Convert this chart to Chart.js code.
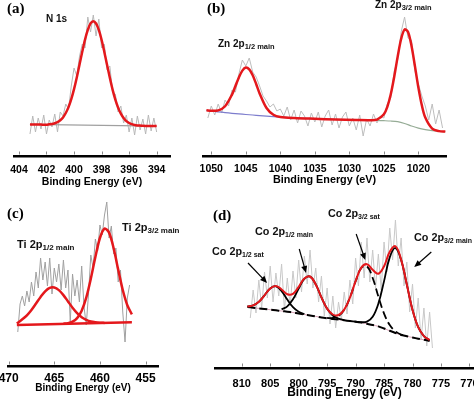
<!DOCTYPE html>
<html>
<head>
<meta charset="utf-8">
<script src="https://cdn.jsdelivr.net/npm/chart.js@4.4.1/dist/chart.umd.min.js"></script>
<style>
  body { margin: 0; background: #fff; }
  #page { position: relative; width: 474px; height: 399px; overflow: hidden; background: #fff; }
  canvas { position: absolute; }
  .lab { position: absolute; font-family: 'Liberation Serif', 'Times New Roman', serif; font-weight: bold; font-size: 15px; line-height: 1; color: #000; }
  .ann { position: absolute; font-family: 'Liberation Sans', Arial, sans-serif; font-weight: bold; line-height: 1; white-space: nowrap; color: #111; }
  .ann span { position: relative; top: 2px; }
</style>
</head>
<body>
<div id="page">
  <canvas id="ca" width="195" height="195" style="left:0;top:0"></canvas>
  <canvas id="cb" width="279" height="195" style="left:195px;top:0"></canvas>
  <canvas id="cc" width="200" height="204" style="left:0;top:195px"></canvas>
  <canvas id="cd" width="274" height="204" style="left:200px;top:195px"></canvas>

  <div class="lab" style="left:7px;top:1px">(a)</div>
  <div class="lab" style="left:207px;top:1px">(b)</div>
  <div class="lab" style="left:7px;top:206px">(c)</div>
  <div class="lab" style="left:213px;top:208px">(d)</div>

  <div class="ann" style="left:46px;top:14px;font-size:10px">N 1s</div>
  <div class="ann" style="left:218px;top:39px;font-size:10px">Zn 2p<span style="font-size:7.5px">1/2 main</span></div>
  <div class="ann" style="left:375px;top:0;font-size:10px">Zn 2p<span style="font-size:7.5px">3/2 main</span></div>
  <div class="ann" style="left:122px;top:222px;font-size:11px">Ti 2p<span style="font-size:8px">3/2 main</span></div>
  <div class="ann" style="left:17px;top:239px;font-size:11px">Ti 2p<span style="font-size:8px">1/2 main</span></div>
  <div class="ann" style="left:255px;top:226px;font-size:10.8px">Co 2p<span style="font-size:7px">1/2 main</span></div>
  <div class="ann" style="left:328px;top:208px;font-size:10.8px">Co 2p<span style="font-size:7px">3/2 sat</span></div>
  <div class="ann" style="left:414px;top:232px;font-size:10.8px">Co 2p<span style="font-size:7px">3/2 main</span></div>
  <div class="ann" style="left:212px;top:246px;font-size:10.8px">Co 2p<span style="font-size:7px">1/2 sat</span></div>
</div>
<script>
// tick labels (binding energy, eV)
const aTicks = [404, 402, 400, 398, 396, 394];
const bTicks = [1050, 1045, 1040, 1035, 1030, 1025, 1020];
const cTicks = [470, 465, 460, 455];
const dTicks = [810, 805, 800, 795, 790, 785, 780, 775, 770];

// (a) N 1s  [energy, intensity a.u.]
const aRaw = [[403.2,22],[403.0,40],[402.8,24],[402.6,38],[402.4,27],[402.2,41],[402.0,22],[401.8,36],[401.6,29],[401.4,42],[401.2,24],[401.0,44],[400.8,40],[400.6,52],[400.4,47],[400.2,70],[400.0,88],[399.8,80],[399.6,100],[399.4,112],[399.2,108],[399.0,139],[398.8,124],[398.6,141],[398.4,120],[398.2,137],[398.0,108],[397.8,112],[397.6,86],[397.4,90],[397.2,64],[397.0,62],[396.8,44],[396.6,50],[396.4,33],[396.2,41],[396.0,24],[395.8,38],[395.6,21],[395.4,40],[395.2,26],[395.0,37],[394.8,22],[394.6,41],[394.4,25],[394.2,38],[394.0,24]];
const aFit = [[403.2,31.5],[403.0,31.5],[402.8,31.4],[402.6,31.4],[402.4,31.4],[402.2,31.3],[402.0,31.3],[401.8,31.7],[401.6,32.0],[401.4,32.7],[401.2,33.8],[401.0,35.7],[400.8,38.6],[400.6,43.0],[400.4,48.9],[400.2,56.9],[400.0,66.9],[399.8,78.6],[399.6,91.4],[399.4,104.4],[399.2,116.5],[399.0,126.2],[398.8,132.6],[398.6,134.8],[398.4,132.5],[398.2,126.1],[398.0,116.3],[397.8,104.1],[397.6,91.1],[397.4,78.2],[397.2,66.4],[397.0,56.4],[396.8,48.4],[396.6,42.3],[396.4,37.9],[396.2,34.9],[396.0,33.0],[395.8,31.8],[395.6,31.0],[395.4,30.6],[395.2,30.4],[395.0,30.2],[394.8,30.1],[394.6,30.1],[394.4,30.1],[394.2,30.0],[394.0,30.0]];
const aBase = [[403.2,31.6],[394.0,29.9]];

// (b) Zn 2p
const bRaw = [[1050.5,38],[1050,50],[1049.5,41],[1049,52],[1048.5,43],[1048,56],[1047.5,50],[1047,66],[1046.5,64],[1046,82],[1045.5,96],[1045,90],[1044.5,98],[1044,84],[1043.5,79],[1043,70],[1042.5,60],[1042,55],[1041.5,49],[1041,52],[1040.5,45],[1040,47],[1039.5,40],[1039,49],[1038.5,36],[1038,46],[1037.5,33],[1037,45],[1036.5,40],[1036,30],[1035.5,43],[1035,34],[1034.5,44],[1034,29],[1033.5,40],[1033,46],[1032.5,31],[1032,42],[1031.5,28],[1031,39],[1030.5,44],[1030,30],[1029.5,38],[1029,26],[1028.5,41],[1028,20],[1027.5,37],[1027,30],[1026.5,42],[1026,33],[1025.5,40],[1025,38],[1024.5,52],[1024,58],[1023.5,85],[1023,96],[1022.5,124],[1022,139],[1021.5,118],[1021,116],[1020.5,85],[1020,72],[1019.5,60],[1019,50],[1018.5,36],[1018,52],[1017.5,32],[1017,46],[1016.5,28]];
const bFit = [[1050.7,45.7],[1050,45.2],[1049,45.6],[1048,49.8],[1047,61.4],[1046.5,70.0],[1046,78.6],[1045.5,85.4],[1045,88.5],[1044.5,86.6],[1044,80.7],[1043.5,72.0],[1043,62.6],[1042,48.0],[1041,41.3],[1040,39.1],[1038,38.0],[1035,37.2],[1032,36.5],[1029,36.0],[1027,35.8],[1026,36.4],[1025,41.8],[1024.5,49.2],[1024,61.7],[1023.5,79.2],[1023,99.4],[1022.5,117.0],[1022,126.5],[1021.5,124.1],[1021,110.3],[1020.5,89.9],[1020,68.4],[1019.5,50.7],[1019,38.4],[1018,27.4],[1017,24.9],[1016.1,24.4]];
const bBase = [[1050.7,45.7],[1050,45.0],[1049,44.2],[1048,43.4],[1047,42.7],[1046,42.1],[1045,41.5],[1044,41.0],[1043,40.4],[1042,39.8],[1041,39.3],[1040,38.8],[1038,38.0],[1035,37.2],[1032,36.5],[1029,36.0],[1027,35.7],[1026,35.5],[1025,35.3],[1024,35.0],[1023,34.3],[1022,32.5],[1021,30.0],[1020,27.8],[1019,26.3],[1018,25.3],[1017,24.7],[1016.1,24.3]];

// (c) Ti 2p
const cRaw = [[469.0,34],[468.75,62],[468.5,70],[468.25,60],[468.0,75],[467.75,64],[467.5,84],[467.25,70],[467.0,94],[466.75,78],[466.5,108],[466.25,86],[466.0,104],[465.75,80],[465.5,108],[465.25,72],[465.0,98],[464.75,84],[464.5,102],[464.25,76],[464.0,106],[463.75,78],[463.5,96],[463.25,44],[463.0,92],[462.75,70],[462.5,86],[462.25,64],[462.0,100],[461.75,60],[461.5,41],[461.25,72],[461.0,111],[460.75,98],[460.5,127],[460.25,115],[460.0,141],[459.75,131],[459.5,151],[459.25,164],[459.0,128],[458.75,140],[458.5,112],[458.25,118],[458.0,84],[457.75,96],[457.5,54],[457.25,24],[457.0,68],[456.75,81]];
const cMain32 = [[464,42.3],[463.5,42.9],[463,44.4],[462.5,47.9],[462,55.3],[461.5,68.3],[461,87.2],[460.5,109],[460,128],[459.5,137.4],[459,133.4],[458.5,117.7],[458,96.4],[457.5,76],[457,60.8],[456.5,51.6]];
const cMain12 = [[469.1,42.5],[468.5,46.7],[468,50.7],[467.5,56.1],[467,62.5],[466.5,69.1],[466,74.7],[465.5,78.1],[465,78.5],[464.5,75.9],[464,70.9],[463.5,64.6],[463,58.3],[462.5,52.9],[462,48.8],[461.5,46.2],[461,44.5],[460.5,43.7],[460,43.3],[459.5,43.1]];
const cBase = [[469.1,41],[456.5,43.7]];

// (d) Co 2p
const dRaw = [[808.5,50],[808,78],[807.5,55],[807,88],[806.5,60],[806,96],[805.5,70],[805,102],[804.5,66],[804,95],[803.5,72],[803,104],[802.5,58],[802,90],[801.5,62],[801,97],[800.5,70],[800,108],[799.5,76],[799,112],[798.5,84],[798,118],[797.5,80],[797,100],[796.5,66],[796,92],[795.5,52],[795,80],[794.5,44],[794,72],[793.5,40],[793,66],[792.5,48],[792,76],[791.5,54],[791,88],[790.5,64],[790,110],[789.5,82],[789,126],[788.5,90],[788,130],[787.5,86],[787,118],[786.5,80],[786,114],[785.5,78],[785,126],[784.5,96],[784,140],[783.5,108],[783,148],[782.5,102],[782,130],[781.5,82],[781,106],[780.5,56],[780,84],[779.5,40],[779,70],[778.5,28],[778,60],[777.5,22],[777,56],[776.5,20]];
const dFit = [[809,61.6],[808,62.6],[807,66.2],[806,72.7],[805,79.6],[804,82.1],[803,78.5],[802,73.7],[801,74.1],[800,81.2],[799,89.6],[798,91.5],[797,83.6],[796,70.6],[795,59.4],[794,53.5],[793,53.0],[792,58.4],[791,70.3],[790,86.8],[789,100.4],[788,103.8],[787,98.2],[786,94.3],[785,101.8],[784,116.3],[783,121.7],[782,108.4],[781,83.5],[780,58.1],[779,40.8],[778,31.9],[777,28.0]];
const dSat12 = [[809,61.6],[808,62.6],[807,66.2],[806,72.7],[805,79.5],[804,81.7],[803,76.9],[802,68.4],[801,60.9],[800,56.3],[799,53.9]];
const dMain12 = [[803,58.6],[802,61.6],[801,68.7],[800,79.4],[799,89.2],[798,91.4],[797,83.6],[796,70.6],[795,59.2],[794,52.5],[793,49.3],[792,47.9]];
const dSat32 = [[795,50],[794,50.1],[793,52.1],[792,58.2],[791,70.3],[790,86.7],[789,100],[788,101.6],[787,90],[786,71.5],[785,54.4],[784,42.9],[783,36.7],[782,33.4],[781,31.9]];
const dMain32 = [[791,47],[790,46.4],[789,45.8],[788,46.4],[787,51.2],[786,64.4],[785,86.9],[784,110.6],[783,120],[782,108],[781,83.4],[780,58.1],[779,40.8],[778,31.9],[777,28]];
const dBase = [[809,61],[808,60.3],[807,59.6],[806,59],[805,58.3],[804,57.7],[803,57],[802,56.3],[801,55.5],[800,54.5],[799,53.5],[798,52.6],[797,51.6],[796,50.6],[795,49.8],[794,49.1],[793,48.4],[792,47.7],[791,47],[790,46.3],[789,45.4],[788,44.2],[787,43],[786,41.6],[785,39.5],[784,37.2],[783,35],[782,33],[781,31.8],[780,30.5],[779,29.3],[778,28.2],[777,27.1]];

// arrow annotations for (d): from [E, I] to [E, I]
const dArrows = [[808.9,105,805.55,85],[799.9,119,798.7,95],[789.9,134,788.3,108],[776.7,116,779.7,101]];

const FONT = "'Liberation Sans', Arial, sans-serif";
const RED = 'rgb(228,24,28)';

// small inward tick marks above the axis line
const innerTicks = {
  id: 'innerTicks',
  afterDraw(chart) {
    const s = chart.scales.x, ctx = chart.ctx;
    ctx.save();
    ctx.strokeStyle = '#8a8a8a';
    ctx.lineWidth = 1;
    s.ticks.forEach(t => {
      const px = Math.round(s.getPixelForValue(t.value)) + 0.5;
      ctx.beginPath();
      ctx.moveTo(px, s.top - 1.5);
      ctx.lineTo(px, s.top - 4.5);
      ctx.stroke();
    });
    ctx.restore();
  }
};

const arrowPlugin = {
  id: 'arrows',
  afterDatasetsDraw(chart, args, opts) {
    if (!opts.list) return;
    const { ctx, scales: { x, y } } = chart;
    ctx.save();
    ctx.strokeStyle = '#000';
    ctx.fillStyle = '#000';
    ctx.lineWidth = 1.2;
    opts.list.forEach(a => {
      const x1 = x.getPixelForValue(a[0]), y1 = y.getPixelForValue(a[1]);
      const x2 = x.getPixelForValue(a[2]), y2 = y.getPixelForValue(a[3]);
      const ang = Math.atan2(y2 - y1, x2 - x1), c = Math.cos(ang), s = Math.sin(ang);
      ctx.beginPath();
      ctx.moveTo(x1, y1);
      ctx.lineTo(x2 - 5 * c, y2 - 5 * s);
      ctx.stroke();
      ctx.beginPath();
      ctx.moveTo(x2, y2);
      ctx.lineTo(x2 - 7 * c + 3 * s, y2 - 7 * s - 3 * c);
      ctx.lineTo(x2 - 7 * c - 3 * s, y2 - 7 * s + 3 * c);
      ctx.closePath();
      ctx.fill();
    });
    ctx.restore();
  }
};

function line(pts, color, width, extra) {
  return Object.assign({
    data: pts.map(p => ({ x: p[0], y: p[1] })),
    borderColor: color,
    borderWidth: width,
    pointRadius: 0,
    fill: false,
    tension: 0
  }, extra || {});
}

function makePanel(id, cfg) {
  return new Chart(document.getElementById(id), {
    type: 'line',
    data: { datasets: cfg.sets },
    options: {
      responsive: false,
      animation: false,
      layout: { autoPadding: false, padding: cfg.pad },
      plugins: { legend: { display: false }, tooltip: { enabled: false }, arrows: { list: cfg.arrows } },
      scales: {
        x: {
          type: 'linear', reverse: true, min: cfg.min, max: cfg.max,
          afterBuildTicks: s => { s.ticks = cfg.ticks.map(v => ({ value: v })); },
          // fixed axis height, and no extra room for edge labels (they may be clipped like the original)
          afterFit: s => { s.height = cfg.axisH; s.paddingLeft = 0; s.paddingRight = 0; },
          grid: { display: false, drawTicks: false },
          border: { display: true, color: '#000', width: 2.5 },
          ticks: {
            autoSkip: false, maxRotation: 0, color: '#000', padding: cfg.tickPad,
            font: { family: FONT, size: cfg.tickSize, weight: 'bold' },
            callback: v => String(v)
          },
          title: {
            display: true, text: 'Binding Energy (eV)', color: '#000', padding: 0,
            font: { family: FONT, size: cfg.titleSize, weight: 'bold', lineHeight: cfg.titleLH }
          }
        },
        y: { display: false, min: 0, max: cfg.ymax }
      }
    },
    plugins: [innerTicks, arrowPlugin]
  });
}

// (a)
makePanel('ca', {
  min: 393.03, max: 404.36, ticks: aTicks, ymax: 156,
  pad: { left: 14, right: 25, top: 0, bottom: 7 }, axisH: 32,
  tickPad: 8, tickSize: 10.5, titleSize: 10.5, titleLH: 1.2,
  sets: [
    line(aFit, RED, 2.5, { tension: 0.3 }),
    line(aBase, '#a0a0a0', 1.2),
    line(aRaw, '#b8b8b8', 1)
  ]
});

// (b)
makePanel('cb', {
  min: 1016.0, max: 1051.2, ticks: bTicks, ymax: 156,
  pad: { left: 8, right: 28, top: 0, bottom: 8 }, axisH: 31,
  tickPad: 7, tickSize: 10.5, titleSize: 10.8, titleLH: 1.2,
  sets: [
    line(bFit, RED, 2.5, { tension: 0.3 }),
    line(bBase, 'rgb(130,130,200)', 1.2, {
      tension: 0.3,
      segment: { borderColor: c => c.p0.parsed.x > 1034 ? 'rgb(125,125,205)' : 'rgb(150,172,150)' }
    }),
    line(bRaw, '#bdbdbd', 1)
  ]
});

// (c)
makePanel('cc', {
  min: 453.64, max: 470.07, ticks: cTicks, ymax: 171,
  pad: { left: 8, right: 42, top: 0, bottom: 5 }, axisH: 28,
  tickPad: 5, tickSize: 12, titleSize: 10, titleLH: 1.2,
  sets: [
    line(cMain32, RED, 2.5, { tension: 0.3 }),
    line(cMain12, RED, 2.5, { tension: 0.3 }),
    line(cBase, RED, 2.5),
    line(cRaw, '#a0a0a0', 1)
  ]
});

// (d)
makePanel('cd', {
  min: 769.2, max: 814.7, ticks: dTicks, ymax: 173,
  pad: { left: 15, right: 0, top: 0, bottom: 0 }, axisH: 31,
  tickPad: 9, tickSize: 11, titleSize: 12, titleLH: 1.1,
  arrows: dArrows,
  sets: [
    line(dFit, RED, 2, { tension: 0.4 }),
    line(dSat12, '#000', 1.8, { tension: 0.4 }),
    line(dMain12, '#000', 1.8, { tension: 0.4 }),
    line(dMain32, '#000', 1.8, { tension: 0.4 }),
    line(dSat32, '#000', 1.8, { tension: 0.4, borderDash: [8, 4] }),
    line(dBase, '#000', 2, { tension: 0.3, borderDash: [8, 4] }),
    line(dBase, 'rgb(215,160,180)', 1, { tension: 0.3 }),
    line(dRaw, '#c8c8c8', 1)
  ]
});
</script>
</body>
</html>
